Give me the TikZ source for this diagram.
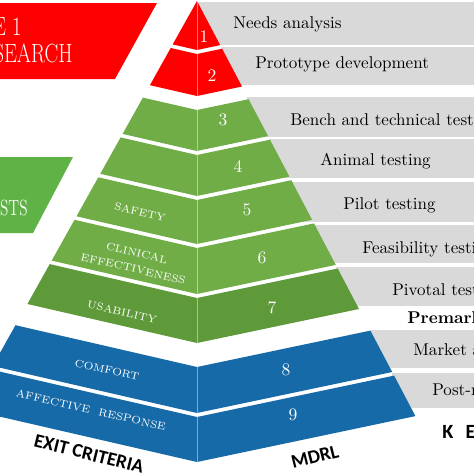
\documentclass[tikz,border=0pt]{standalone}
\usepackage{fontspec}
\usepackage{graphicx}
\newfontfamily\keyfont{Carlito}
\definecolor{phasered}{HTML}{FF0000}
\definecolor{bandgreen}{HTML}{70AD47}
\definecolor{darkgreen}{HTML}{5E9A3A}
\definecolor{boxgreen}{HTML}{5FB346}
\definecolor{bandblue}{HTML}{176AA8}
\definecolor{rowgray}{HTML}{D9D9D9}

\begin{document}
\begin{tikzpicture}[x=0.02cm, y=-0.02cm, line join=round,
	row/.style={fill=rowgray},
	rowtext/.style={anchor=base west, inner sep=0pt, font=\fontsize{9.7}{11}\selectfont},
	num/.style={text=white, inner sep=0pt, font=\fontsize{10}{12}\selectfont},
	face/.style={text=white, inner sep=0pt, rotate=-13, align=center, font=\fontsize{6}{9}\selectfont},
	phase/.style={text=white, anchor=base east, inner sep=0pt, font=\fontsize{15}{18}\selectfont},
	keylabel/.style={inner sep=0pt, font=\keyfont\bfseries\fontsize{11}{13}\selectfont}]
	\useasboundingbox (0,0) rectangle (474,474);
	\clip (0,0) rectangle (474,474);
	% rows behind the pyramid
	\fill[row] (197,2) rectangle (480,45);
	\fill[row] (221,47) rectangle (480,85);
	\fill[row] (247,97) rectangle (480,137);
	\fill[row] (269,139) rectangle (480,178);
	\fill[row] (292,182) rectangle (480,222);
	\fill[row] (315,225) rectangle (480,263);
	\fill[row] (336,267) rectangle (480,306);
	\fill[row] (370,330) rectangle (480,368);
	\fill[row] (392,373) rectangle (480,408);
	% phase boxes
	\fill[phasered] (-10,3) -- (157,3) -- (115,79) -- (-10,79) -- cycle;
	\fill[boxgreen] (-10,157) -- (73,157) -- (33,233) -- (-10,233) -- cycle;
	% pyramid
	\fill[phasered] (197,1) -- (220.2,45.1) -- (197,50) -- (172.7,44.4) -- cycle;
	\fill[phasered] (170.7,48) -- (197,54) -- (222.1,48.7) -- (242,86.5) -- (197,96) -- (149.9,85.2) -- cycle;
	\fill[bandgreen] (142.9,97.6) -- (197,110) -- (248.6,99.2) -- (268.1,136.1) -- (197,151) -- (122.6,133.9) -- cycle;
	\fill[bandgreen] (120.6,137.4) -- (197,155) -- (270,139.7) -- (289.4,176.6) -- (197,196) -- (100.3,173.8) -- cycle;
	\fill[bandgreen] (98.3,177.3) -- (197,200) -- (291.3,180.2) -- (312.1,219.8) -- (197,244) -- (76.5,216.3) -- cycle;
	\fill[bandgreen] (74.5,219.8) -- (197,248) -- (314,223.4) -- (335.8,264.9) -- (197,294) -- (51.7,260.6) -- cycle;
	\fill[darkgreen] (49.7,264.1) -- (197,298) -- (337.7,268.5) -- (359,309) -- (197,343) -- (27.4,304) -- cycle;
	\fill[bandblue] (15.5,325.2) -- (197,367) -- (370.4,330.6) -- (392.2,372) -- (197,413) -- (-7.4,366) -- cycle;
	\fill[bandblue] (-9.3,369.5) -- (197,417) -- (394.1,375.6) -- (415.4,416.1) -- (197,462) -- (-31.7,409.4) -- cycle;
	\draw[white, opacity=0.45, line width=0.3pt] (197,1) -- (197,462);
	% numbers
	\node[num] (n1) at (204,37) {1};
	\node[num] (n2) at (212,76) {2};
	\node[num] (n3) at (223,120) {3};
	\node[num] (n4) at (238,167) {4};
	\node[num] (n5) at (247,210) {5};
	\node[num] (n6) at (262,258) {6};
	\node[num] (n7) at (272,308) {7};
	\node[num] (n8) at (286,370) {8};
	\node[num] (n9) at (293,415) {9};
	% activities
	\node[rowtext] (needs) at (233,28) {Needs analysis};
	\node[rowtext] (proto) at (255,68) {Prototype development};
	\node[rowtext] (bench) at (290,125) {Bench and technical testing};
	\node[rowtext] (animal) at (320,165) {Animal testing};
	\node[rowtext] (pilot) at (343,209) {Pilot testing};
	\node[rowtext] (feas) at (362,253) {Feasibility testing};
	\node[rowtext] (pivot) at (392,295) {Pivotal testing};
	\node[rowtext, font=\bfseries\fontsize{9.7}{11}\selectfont] (premarket) at (407,323) {Premarket};
	\node[rowtext] (market) at (413,355) {Market approval};
	\node[rowtext] (post) at (432,395) {Post-market surveillance};
	% exit criteria on the left face
	\node[face] (safety) at (140,212) {SAFETY};
	\node[face] (clinical) at (135,261) {CLINICAL\\EFFECTIVENESS};
	\node[face] (usability) at (122,312) {USABILITY};
	\node[face] (comfort) at (107,370) {COMFORT};
	\node[face] (affective) at (91,410) {AFFECTIVE~~RESPONSE};
	% phase labels
	\node[phase] (ph1) at (22,35) {\scalebox{0.78}[1]{PHASE 1}};
	\node[phase] (ph1b) at (73,62) {\scalebox{0.78}[1]{RESEARCH}};
	\node[phase, font=\fontsize{12.5}{15}\selectfont] (ph2) at (28,215) {\scalebox{0.7}[1]{TESTS}};
	% axis labels
	\node[keylabel, rotate=-14] (exit) at (89,454) {EXIT CRITERIA};
	\node[keylabel, rotate=14] (mdrl) at (315,457) {MDRL};
	\node[keylabel, anchor=base west, font=\keyfont\bfseries\fontsize{11.5}{13}\selectfont] (key) at (442,438) {K\hspace{7pt}E\hspace{7pt}Y};
\end{tikzpicture}
\end{document}
